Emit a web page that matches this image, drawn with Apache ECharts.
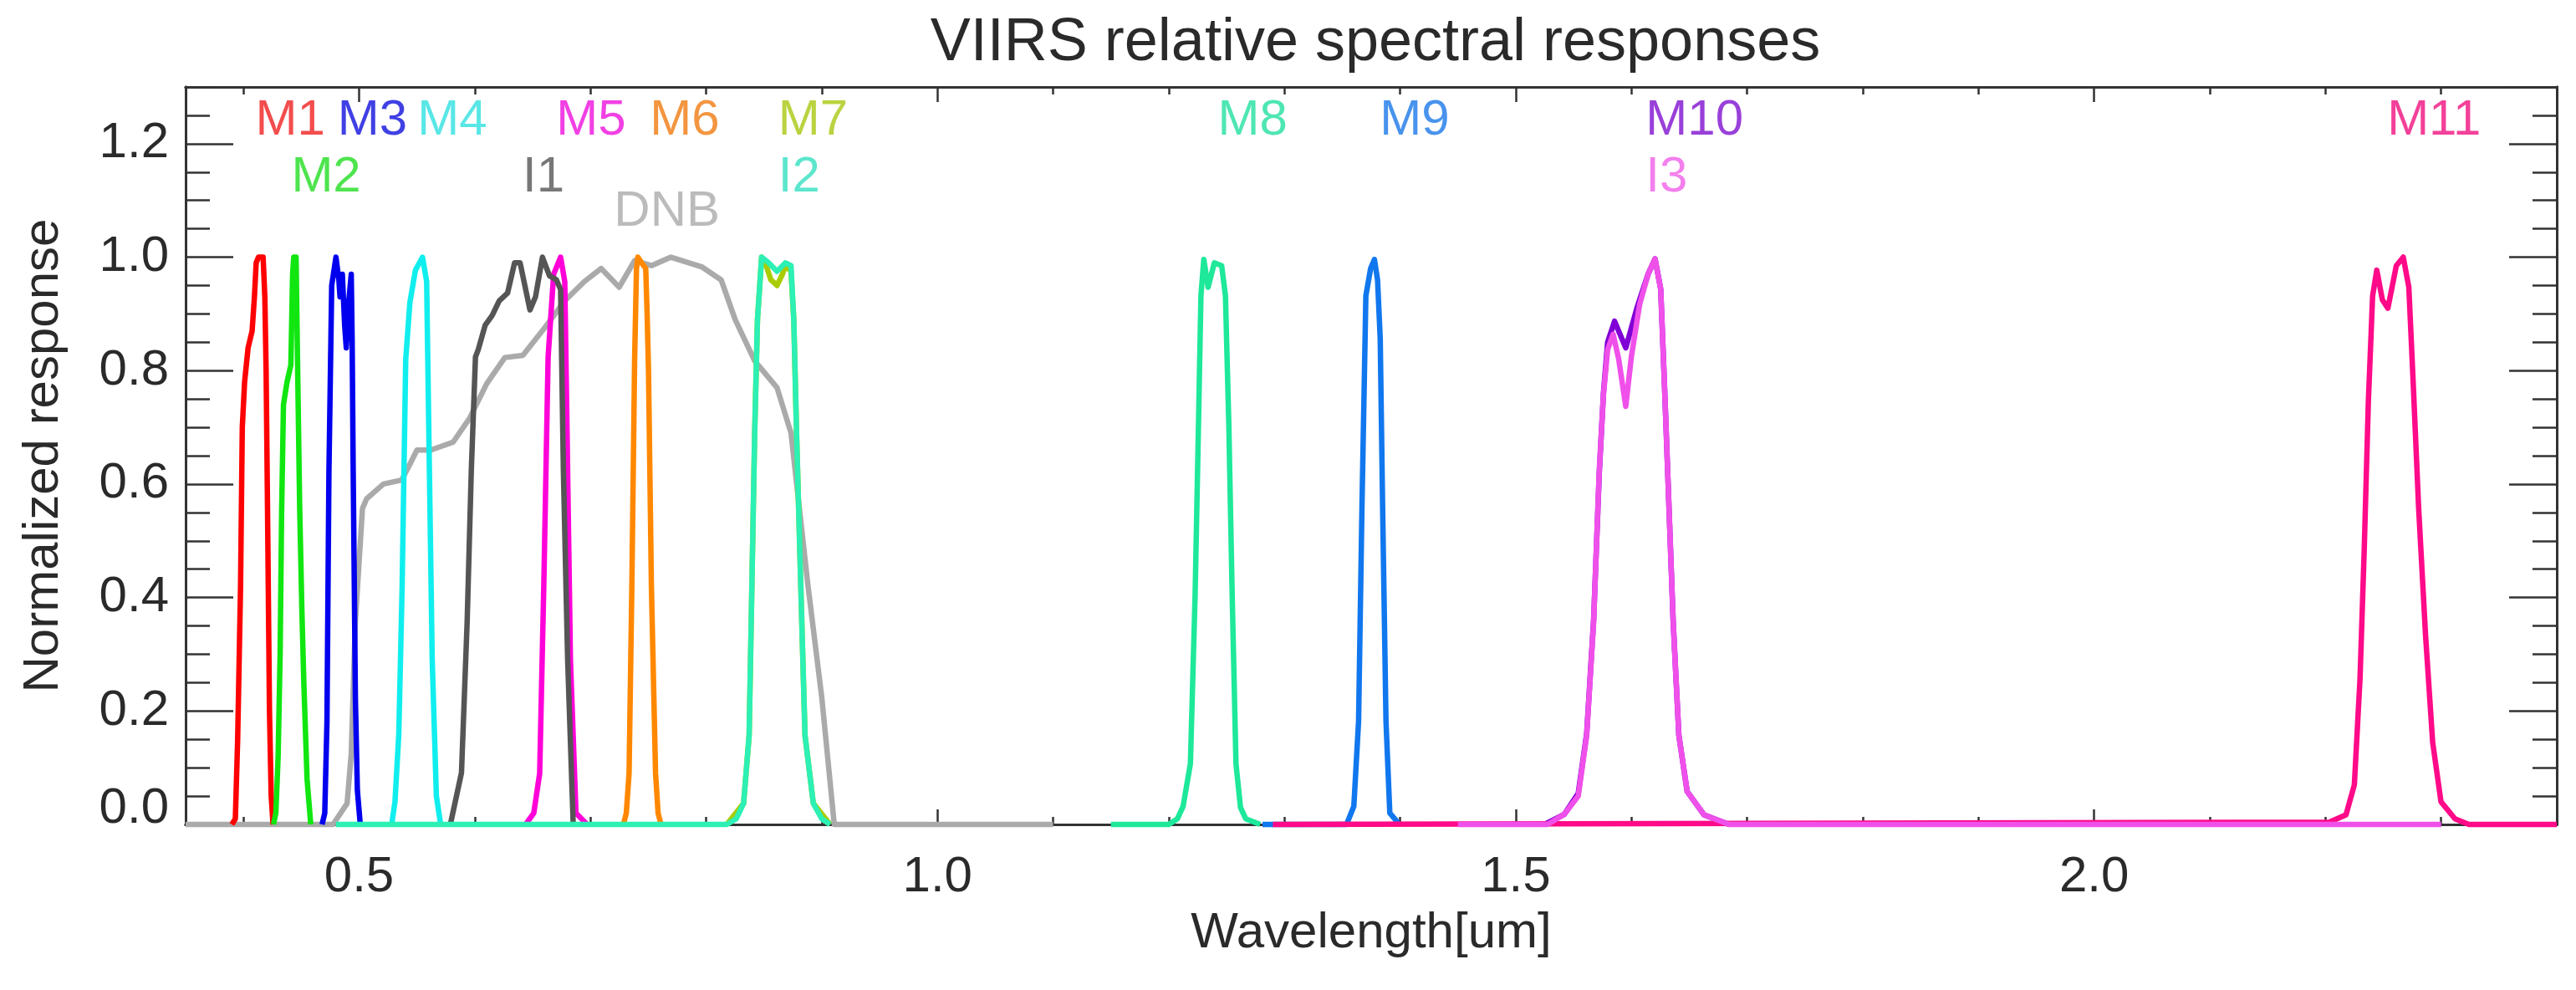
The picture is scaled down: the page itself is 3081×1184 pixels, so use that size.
<!DOCTYPE html>
<html>
<head>
<meta charset="utf-8">
<title>VIIRS relative spectral responses</title>
<script src="https://cdn.jsdelivr.net/npm/echarts/dist/echarts.min.js"></script>
<style>
  html, body { margin: 0; padding: 0; background: #fff; }
  #chart { width: 3081px; height: 1184px; }
</style>
</head>
<body>
<div id="chart"></div>
<script>
// relative spectral responses, [wavelength um, normalized response]
const dnb = [[0.35,0],[0.4775,0],[0.4896,0.037],[0.4932,0.125],[0.4968,0.36],[0.5029,0.557],[0.5065,0.574],[0.521,0.60],[0.5367,0.607],[0.5427,0.63],[0.55,0.66],[0.562,0.66],[0.5717,0.667],[0.5813,0.674],[0.5958,0.717],[0.6103,0.777],[0.626,0.823],[0.6416,0.827],[0.661,0.877],[0.6778,0.923],[0.6947,0.957],[0.7092,0.98],[0.7249,0.947],[0.7382,0.994],[0.7527,0.985],[0.7696,1.0],[0.7961,0.983],[0.813,0.96],[0.8251,0.89],[0.842,0.817],[0.8613,0.77],[0.8734,0.69],[0.8879,0.424],[0.9,0.224],[0.9108,0],[1.1,0]];
const m1 = [[0.390,0],[0.393,0.01],[0.395,0.15],[0.3975,0.42],[0.399,0.70],[0.401,0.78],[0.404,0.84],[0.4075,0.87],[0.4095,0.93],[0.411,0.99],[0.413,1.0],[0.417,1.0],[0.4185,0.93],[0.4196,0.80],[0.4208,0.56],[0.4225,0.2],[0.424,0.05],[0.4256,0]];
const m2 = [[0.426,0],[0.428,0.02],[0.430,0.12],[0.4317,0.30],[0.433,0.55],[0.4346,0.74],[0.4377,0.78],[0.441,0.81],[0.4425,0.97],[0.4435,1.0],[0.4455,1.0],[0.4466,0.84],[0.4486,0.56],[0.4505,0.38],[0.4522,0.25],[0.455,0.08],[0.4582,0]];
const m3 = [[0.468,0],[0.4703,0.02],[0.4722,0.18],[0.4739,0.62],[0.4763,0.95],[0.480,1.0],[0.4825,0.96],[0.4835,0.93],[0.4855,0.97],[0.4875,0.88],[0.4889,0.84],[0.491,0.92],[0.4932,0.97],[0.494,0.85],[0.4949,0.62],[0.4968,0.22],[0.4985,0.06],[0.501,0]];
const m4 = [[0.5282,0],[0.531,0.04],[0.5343,0.158],[0.5372,0.42],[0.5403,0.82],[0.5439,0.92],[0.5487,0.977],[0.5548,1.0],[0.5584,0.957],[0.5608,0.62],[0.5632,0.29],[0.5668,0.05],[0.5705,0]];
const m5 = [[0.644,0],[0.651,0.02],[0.6561,0.09],[0.6597,0.424],[0.6634,0.824],[0.6682,0.97],[0.6742,1.0],[0.6778,0.957],[0.6798,0.69],[0.6827,0.29],[0.6875,0.02],[0.6972,0]];
const m6 = [[0.7285,0],[0.731,0.02],[0.7334,0.09],[0.7358,0.42],[0.7382,0.82],[0.7398,0.98],[0.741,1.0],[0.7442,0.99],[0.7478,0.98],[0.749,0.9],[0.7502,0.80],[0.7527,0.42],[0.7563,0.09],[0.7585,0.02],[0.761,0]];
const i1 = [[0.5789,0],[0.5885,0.091],[0.5934,0.357],[0.597,0.624],[0.6006,0.824],[0.603,0.837],[0.609,0.88],[0.615,0.897],[0.6211,0.923],[0.6284,0.937],[0.6344,0.99],[0.6392,0.99],[0.6477,0.907],[0.6525,0.93],[0.6585,1.0],[0.6646,0.967],[0.6706,0.96],[0.6742,0.943],[0.6766,0.624],[0.6803,0.29],[0.6851,0]];
const m7 = [[0.8179,0],[0.8324,0.037],[0.8372,0.157],[0.8396,0.424],[0.842,0.69],[0.8444,0.89],[0.848,1.0],[0.852,0.985],[0.856,0.96],[0.8613,0.95],[0.866,0.97],[0.8686,0.985],[0.8734,0.975],[0.8758,0.89],[0.8782,0.69],[0.8818,0.424],[0.8855,0.157],[0.8927,0.037],[0.9072,0]];
const i2 = [[0.48,0],[0.8179,0],[0.826,0.01],[0.8324,0.037],[0.8372,0.157],[0.8396,0.424],[0.842,0.69],[0.8444,0.89],[0.848,1.0],[0.8541,0.99],[0.8613,0.975],[0.8686,0.99],[0.8734,0.985],[0.8758,0.89],[0.8782,0.69],[0.8818,0.424],[0.8855,0.157],[0.8927,0.037],[0.9,0.01],[0.9072,0]];
const m8 = [[1.15,0],[1.20,0],[1.2075,0.01],[1.2124,0.032],[1.2187,0.107],[1.2228,0.407],[1.2257,0.707],[1.2278,0.932],[1.2303,0.996],[1.234,0.947],[1.2394,0.99],[1.2457,0.985],[1.249,0.932],[1.2519,0.707],[1.2548,0.407],[1.2581,0.107],[1.262,0.03],[1.2665,0.01],[1.279,0]];
const m9 = [[1.281,0],[1.3537,0],[1.36,0.032],[1.3641,0.182],[1.367,0.557],[1.3704,0.932],[1.3745,0.98],[1.3778,0.996],[1.3805,0.96],[1.3828,0.857],[1.3849,0.557],[1.3878,0.182],[1.3911,0.02],[1.3995,0]];
const m10 = [[1.525,0],[1.542,0.018],[1.554,0.055],[1.5613,0.16],[1.5673,0.36],[1.5722,0.62],[1.5758,0.76],[1.5794,0.85],[1.5854,0.887],[1.5951,0.84],[1.6047,0.91],[1.6144,0.97],[1.6204,0.997],[1.6253,0.944],[1.6289,0.757],[1.6325,0.557],[1.6361,0.357],[1.641,0.157],[1.6482,0.058],[1.6627,0.017],[1.6844,0]];
const m11 = [[1.29,0],[2.2034,0.004],[2.2178,0.017],[2.225,0.07],[2.2299,0.257],[2.2335,0.482],[2.2371,0.745],[2.2408,0.932],[2.2444,0.977],[2.2492,0.925],[2.254,0.91],[2.2613,0.985],[2.2673,1.0],[2.2721,0.947],[2.2758,0.782],[2.2806,0.557],[2.2866,0.332],[2.2927,0.145],[2.2999,0.04],[2.312,0.01],[2.324,0],[2.4,0]];
const i3 = [[1.45,0],[1.5275,0],[1.542,0.018],[1.554,0.05],[1.5613,0.157],[1.5673,0.357],[1.5722,0.624],[1.5758,0.757],[1.5794,0.837],[1.5842,0.864],[1.589,0.82],[1.5951,0.737],[1.5999,0.824],[1.6071,0.917],[1.6144,0.97],[1.6204,0.997],[1.6253,0.944],[1.6289,0.757],[1.6325,0.557],[1.6361,0.357],[1.641,0.157],[1.6482,0.058],[1.6627,0.017],[1.6844,0],[2.3,0]];

// drawing order (later ones on top)
const bandNames = ["DNB", "M1", "M2", "M3", "M4", "M5", "I1", "M6", "M7", "I2", "M8", "M9", "M10", "M11", "I3"];
const bandData = [dnb, m1, m2, m3, m4, m5, i1, m6, m7, i2, m8, m9, m10, m11, i3];
const bandColors = ["#aaaaaa", "#ff0000", "#11e611", "#0000ee", "#11eeee", "#ff00d8", "#555555", "#ff8800", "#a8cc00", "#2cf0b4", "#1ee89a", "#1177ee", "#8000d6", "#ff0a88", "#f050ea"];

// band name tags (left edge wavelength, response level)
const tagNames = ["M1", "M3", "M4", "M5", "M6", "M7", "M8", "M9", "M10", "M11", "M2", "I1", "I2", "I3", "DNB"];
const tagX = [0.410, 0.481, 0.550, 0.670, 0.751, 0.862, 1.242, 1.382, 1.612, 2.253, 0.441, 0.641, 0.862, 1.612, 0.720];
const tagY = [1.241, 1.241, 1.241, 1.241, 1.241, 1.241, 1.241, 1.241, 1.241, 1.241, 1.14, 1.14, 1.14, 1.14, 1.079];
const tagColors = ["#f02020", "#1010dd", "#30e0e0", "#ee10dd", "#f07a10", "#a8c810", "#22e0a0", "#1a78e8", "#8010d0", "#f01080", "#22dd22", "#555555", "#33e0c0", "#f060e8", "#aaaaaa"];

const xMajorTicks = [0.5, 1.0, 1.5, 2.0];
const xMinorTicks = [0.4, 0.6, 0.7, 0.8, 0.9, 1.1, 1.2, 1.3, 1.4, 1.6, 1.7, 1.8, 1.9, 2.1, 2.2, 2.3];

const FONT = "'Liberation Sans', Arial, sans-serif";
const TXT = "#2a2a2a";
const AXC = "#333333";

function xAxisCfg(position, ticks, len, labels) {
  return {
    type: "value",
    position: position,
    min: 0.35,
    max: 2.4,
    axisLine: { show: true, onZero: false, lineStyle: { color: AXC, width: 3 } },
    axisTick: { show: true, inside: true, length: len, customValues: ticks, lineStyle: { color: AXC, width: 2.5 } },
    axisLabel: labels
      ? { show: true, customValues: ticks, margin: 33, fontSize: 60, fontFamily: FONT, color: TXT, formatter: v => v.toFixed(1) }
      : { show: false },
    splitLine: { show: false },
    name: labels ? "Wavelength[um]" : "",
    nameLocation: "middle",
    nameGap: 100,
    nameTextStyle: { fontSize: 60, fontFamily: FONT, color: TXT }
  };
}

function yAxisCfg(position, interval, len, labels) {
  return {
    type: "value",
    position: position,
    min: 0,
    max: 1.3,
    interval: interval,
    axisLine: { show: true, onZero: false, lineStyle: { color: AXC, width: 3 } },
    axisTick: { show: true, inside: true, length: len, lineStyle: { color: AXC, width: 2.5 } },
    axisLabel: labels
      ? {
          show: true,
          showMaxLabel: false,
          margin: 20,
          fontSize: 60,
          fontFamily: FONT,
          color: TXT,
          formatter: v => (v === 0 ? "{z|0.0}" : v.toFixed(1)),
          rich: { z: { fontSize: 60, fontFamily: FONT, color: TXT, padding: [0, 0, 38, 0] } }
        }
      : { show: false },
    splitLine: { show: false },
    name: labels ? "Normalized response" : "",
    nameLocation: "middle",
    nameGap: 140,
    nameTextStyle: { fontSize: 60, fontFamily: FONT, color: TXT }
  };
}

const series = bandData.map((d, i) => ({
  name: bandNames[i],
  type: "line",
  data: d,
  xAxisIndex: 0,
  yAxisIndex: 0,
  showSymbol: false,
  symbol: "none",
  clip: false,
  lineStyle: { width: 6.5, color: bandColors[i], join: "round" },
  itemStyle: { color: bandColors[i] },
  z: 2
}));

series.push({
  name: "tags",
  type: "scatter",
  xAxisIndex: 0,
  yAxisIndex: 0,
  symbolSize: 1,
  itemStyle: { color: "rgba(0,0,0,0)" },
  z: 3,
  label: {
    show: true,
    position: "right",
    distance: 0,
    fontSize: 60,
    fontFamily: FONT,
    formatter: p => p.name
  },
  data: tagNames.map((n, i) => ({
    name: n,
    value: [tagX[i], tagY[i]],
    label: { color: tagColors[i] }
  }))
});

const chart = echarts.init(document.getElementById("chart"), null, { renderer: "canvas" });
chart.setOption({
  animation: false,
  backgroundColor: "#ffffff",
  title: {
    text: "VIIRS relative spectral responses",
    left: 1640,
    textAlign: "center",
    top: 11,
    textStyle: { fontSize: 72, fontWeight: "normal", fontFamily: FONT, color: TXT }
  },
  grid: { left: 222, right: 23, top: 104, bottom: 198, containLabel: false },
  xAxis: [
    xAxisCfg("bottom", xMajorTicks, 18, true),
    xAxisCfg("bottom", xMinorTicks, 9, false),
    xAxisCfg("top", xMajorTicks, 18, false),
    xAxisCfg("top", xMinorTicks, 9, false)
  ],
  yAxis: [
    yAxisCfg("left", 0.2, 57, true),
    yAxisCfg("left", 0.05, 29, false),
    yAxisCfg("right", 0.2, 57, false),
    yAxisCfg("right", 0.05, 29, false)
  ],
  series: series
});
</script>
</body>
</html>
